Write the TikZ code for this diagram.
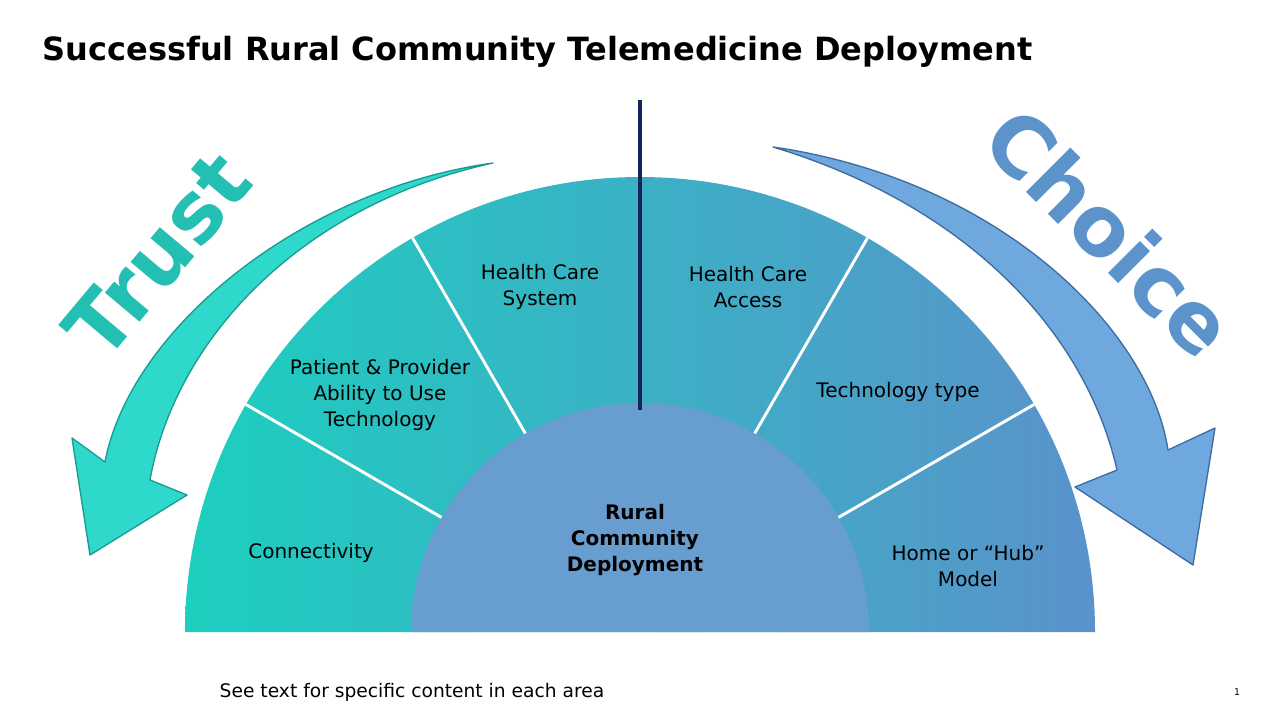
\documentclass[tikz,border=0pt]{standalone}
\usepackage{fontspec}
\setmainfont{DejaVu Sans}
\usetikzlibrary{calc}
\definecolor{tealA}{HTML}{1CCFBF}
\definecolor{blueA}{HTML}{5A92CB}
\definecolor{innerB}{HTML}{689ECF}
\definecolor{navy}{HTML}{14235A}
\definecolor{trustF}{HTML}{2ED9CB}
\definecolor{trustD}{HTML}{179C92}
\definecolor{trustT}{HTML}{22BFB2}
\definecolor{choiceF}{HTML}{6FA8DE}
\definecolor{choiceD}{HTML}{3E6C9E}
\definecolor{choiceT}{HTML}{5C93CB}
\tikzset{lbl/.style={font=\fontsize{15}{19.5}\selectfont,align=center,text=black},
 divider/.style={white,line width=2.2pt},
 bigword/.style={font=\fontsize{62}{62}\bfseries\selectfont}}
\begin{document}
\begin{tikzpicture}[x=0.75pt,y=-0.75pt]
\useasboundingbox[fill=white] (0,0) rectangle (1280,720);
\coordinate (c) at (640,632);
\shade[left color=tealA,right color=blueA] (185,632) arc[start angle=180,end angle=360,radius=455] -- cycle;
\foreach \a in {30,60,120,150}{
  \draw[divider] ($(c)+(-\a:229)$) -- ($(c)+(-\a:455)$);
}
\fill[innerB] (411,632) arc[start angle=180,end angle=360,radius=229] -- cycle;
\draw[navy,line width=2.4pt] (640,100) -- (640,410);
% Trust arrow
\filldraw[fill=trustF,draw=trustD,line width=1pt,line join=round]
 (493,163) .. controls (300,190) and (130,330) .. (105,462)
 -- (72,438) -- (90,555) -- (187,495) -- (150,480)
 .. controls (175,340) and (300,205) .. (493,163) -- cycle;
% Choice arrow
\filldraw[fill=choiceF,draw=choiceD,line width=1pt,line join=round]
 (773,147) .. controls (1000,180) and (1150,330) .. (1168,450)
 -- (1215,428) -- (1193,565) -- (1075,487) -- (1117,470)
 .. controls (1085,330) and (965,205) .. (773,147) -- cycle;
% arrow words
\node[rotate=50,text=trustT,bigword] (trust) at (158,255) {Trust};
\node[rotate=-45,text=choiceT,bigword] (choice) at (1110,232) {Choice};
\node[anchor=west,font=\fontsize{24}{28}\bfseries\selectfont] (title) at (38,52) {Successful Rural Community Telemedicine Deployment};
\node[lbl] (hcs) at (540,287) {Health Care\\System};
\node[lbl] (hca) at (748,287) {Health Care\\Access};
\node[lbl] (ppa) at (380,395) {Patient \& Provider\\Ability to Use\\Technology};
\node[lbl] (tt) at (898,392) {Technology type};
\node[lbl] (con) at (311,553) {Connectivity};
\node[lbl] (hub) at (968,566) {Home or “Hub”\\Model};
\node[lbl,font=\fontsize{15}{19.5}\bfseries\selectfont] (rcd) at (635,540) {Rural\\Community\\Deployment};
\node[font=\fontsize{14}{16}\selectfont] (foot) at (412,692) {See text for specific content in each area};
\node[font=\fontsize{7}{8}\selectfont] (pg) at (1237,692) {1};
\end{tikzpicture}
\end{document}
